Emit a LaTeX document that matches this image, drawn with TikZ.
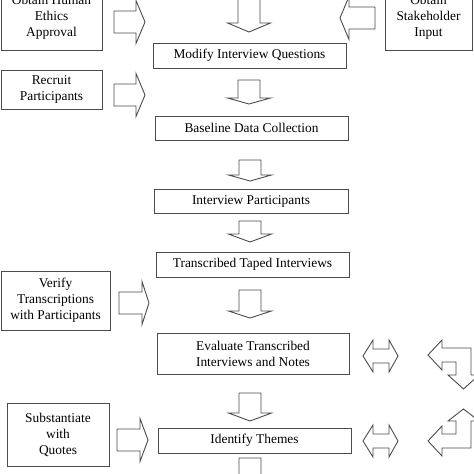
\documentclass[tikz,border=0pt]{standalone}
\usepackage{fontspec}
\setmainfont{Liberation Serif}
\newcommand\dnarr[4]{%
  \draw[blk] ({#1-11},#2) -- ({#1+11},#2) -- ({#1+11},#3) -- ({#1+21.5},#3) -- (#1,#4) -- ({#1-21.5},#3) -- ({#1-11},#3) -- cycle;}
\newcommand\rtarr[4]{%
  \draw[blk] (#1,{#4-11}) -- (#2,{#4-11}) -- (#2,{#4-21.5}) -- (#3,#4) -- (#2,{#4+21.5}) -- (#2,{#4+11}) -- (#1,{#4+11}) -- cycle;}
\newcommand\dblarr[1]{%
  \draw[blk] (363,#1) -- (373,{#1-16}) -- (373,{#1-7}) -- (389,{#1-7}) -- (389,{#1-16}) -- (398,#1) -- (389,{#1+16}) -- (389,{#1+7}) -- (373,{#1+7}) -- (373,{#1+16}) -- cycle;}
\begin{document}
\begin{tikzpicture}[x=1pt,y=-1pt,
  box/.style={draw=black!70, line width=0.9pt, align=center, inner sep=0pt,
    font=\fontsize{13.4}{16}\selectfont, text=black},
  blk/.style={draw=black!70, line width=0.9pt, line join=miter, fill=white}]
\useasboundingbox (0,0) rectangle (474,474);
% boxes
\node[box, minimum width=101pt, minimum height=66pt] (ethics) at (51.5,17) {Obtain Human\\Ethics\\Approval};
\node[box, minimum width=101pt, minimum height=39pt] (recruit) at (51.5,89.5) {Recruit\\Participants};
\node[box, minimum width=87pt, minimum height=66pt] (stake) at (428.5,17) {Obtain\\Stakeholder\\Input};
\node[box, minimum width=193pt, minimum height=25pt] (modify) at (249.5,55.5) {Modify Interview Questions};
\node[box, minimum width=193pt, minimum height=24pt] (baseline) at (251.5,128) {Baseline Data Collection};
\node[box, minimum width=194pt, minimum height=24pt] (interview) at (251,201) {Interview Participants};
\node[box, minimum width=193pt, minimum height=25pt] (transcribed) at (252.5,264.5) {Transcribed Taped Interviews};
\node[box, minimum width=109pt, minimum height=59pt] (verify) at (55.5,300.5) {Verify\\Transcriptions\\with Participants};
\node[box, minimum width=192pt, minimum height=41pt] (evaluate) at (253,353.5) {Evaluate Transcribed\\Interviews and Notes};
\node[box, minimum width=102pt, minimum height=63pt] (substantiate) at (58,434.5) {Substantiate\\with\\Quotes};
\node[box, minimum width=193pt, minimum height=25pt] (identify) at (254.5,440.5) {Identify Themes};
% down block arrows
\dnarr{249}{-5}{23}{32}
\dnarr{249}{80}{98}{104}
\dnarr{250}{160}{175}{181}
\dnarr{250}{221}{234}{242}
\dnarr{250}{290}{311}{318}
\dnarr{250}{393}{413}{421}
\dnarr{250}{458}{490}{500}
% side block arrows
\rtarr{114}{136}{145}{22}
\rtarr{114}{136}{145}{95}
\rtarr{119}{142}{149}{303}
\rtarr{117}{140}{148}{440}
\rtarr{375}{349}{340}{18}
% double arrows
\dblarr{356}
\dblarr{441}
% bent arrows
\draw[blk] (428,355) -- (442,340) -- (442,348) -- (471,348) -- (471,375) -- (479,375) -- (463.5,389) -- (448,375) -- (456,375) -- (456,362) -- (442,362) -- (442,370) -- cycle;
\draw[blk] (463.5,409) -- (479,421) -- (471,421) -- (471,448) -- (442,448) -- (442,456) -- (428,441) -- (442,426) -- (442,434) -- (456,434) -- (456,421) -- (448,421) -- cycle;
\end{tikzpicture}
\end{document}
